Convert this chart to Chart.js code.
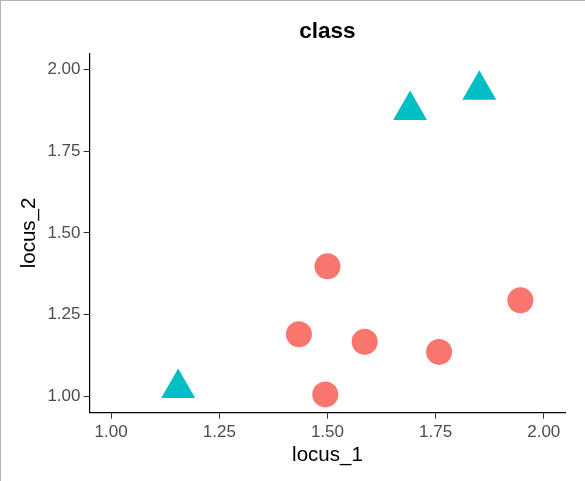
<!DOCTYPE html>
<html>
<head>
<meta charset="utf-8">
<script src="https://cdn.jsdelivr.net/npm/chart.js@4/dist/chart.umd.min.js"></script>
<style>
    html, body { margin: 0; padding: 0; background: #fff; }
    #wrap { position: relative; width: 585px; height: 481px; }
    #frame { position: absolute; left: 0; top: 0; right: 0; bottom: 0;
             border-left: 1px solid #b4b4b4; border-top: 1px solid #b4b4b4; pointer-events: none; }
</style>
</head>
<body>
<div id="wrap">
    <canvas id="classChart" width="585" height="481"></canvas>
    <div id="frame"></div>
</div>
<script>
// values
let circleX = [1.500, 1.434, 1.586, 1.758, 1.946, 1.495];
let circleY = [1.398, 1.190, 1.167, 1.136, 1.294, 1.006];
let triangleX = [1.155, 1.691, 1.851];
let triangleY = [1.025, 1.876, 1.938];
let tickValues = [1.00, 1.25, 1.50, 1.75, 2.00];

function toPoints(xs, ys) {
    let pts = [];
    for (let i = 0; i < xs.length; i++) {
        pts.push({ x: xs[i], y: ys[i] });
    }
    return pts;
}

const fontFamily = '"Liberation Sans", Arial, sans-serif';

function axisOptions(titleText, isX) {
    return {
        type: 'linear',
        min: 0.95,
        max: 2.05,
        afterBuildTicks: function (scale) {
            scale.ticks = tickValues.map(v => ({ value: v }));
        },
        afterFit: function (scale) {
            if (isX) {
                scale.height = 68.3;
                scale.paddingLeft = 0;
                scale.paddingRight = 0;
            } else {
                scale.width = 89.5;
                scale.paddingTop = 0;
                scale.paddingBottom = 0;
            }
        },
        ticks: {
            color: '#4D4D4D',
            padding: 3,
            font: { family: fontFamily, size: 17 },
            callback: v => Number(v).toFixed(2)
        },
        grid: {
            drawOnChartArea: false,
            drawTicks: true,
            tickLength: 6,
            color: '#333333'
        },
        border: { display: true, color: '#000000', width: 1.2 },
        title: {
            display: true,
            text: titleText,
            color: '#000000',
            font: { family: fontFamily, size: 20.5 },
            padding: isX ? { top: 0, bottom: 13.5 } : { top: 17, bottom: 0 }
        }
    };
}

const configScatter = {
    type: 'scatter',
    data: {
        datasets: [{
            label: 'circle',
            data: toPoints(circleX, circleY),
            pointStyle: 'circle',
            pointRadius: 13,
            pointHoverRadius: 13,
            pointBorderWidth: 0,
            backgroundColor: '#F8766D',
            borderColor: '#F8766D'
        }, {
            label: 'triangle',
            data: toPoints(triangleX, triangleY),
            pointStyle: 'triangle',
            pointRadius: 19.6,
            pointHoverRadius: 19.6,
            pointBorderWidth: 0,
            backgroundColor: '#00BFC4',
            borderColor: '#00BFC4'
        }]
    },
    options: {
        responsive: false,
        animation: false,
        layout: { padding: { left: 0, right: 17.3, top: 0, bottom: 0 } },
        plugins: {
            legend: { display: false },
            tooltip: { enabled: false },
            title: {
                display: true,
                text: 'class',
                fullSize: false,
                color: '#000000',
                font: { family: fontFamily, size: 22.5, weight: 'bold' },
                padding: { top: 18, bottom: 8.3 }
            }
        },
        scales: {
            x: axisOptions('locus_1', true),
            y: axisOptions('locus_2', false)
        }
    }
};

let chartCanvas = document.getElementById('classChart');
const classChart = new Chart(chartCanvas, configScatter);
</script>
</body>
</html>
